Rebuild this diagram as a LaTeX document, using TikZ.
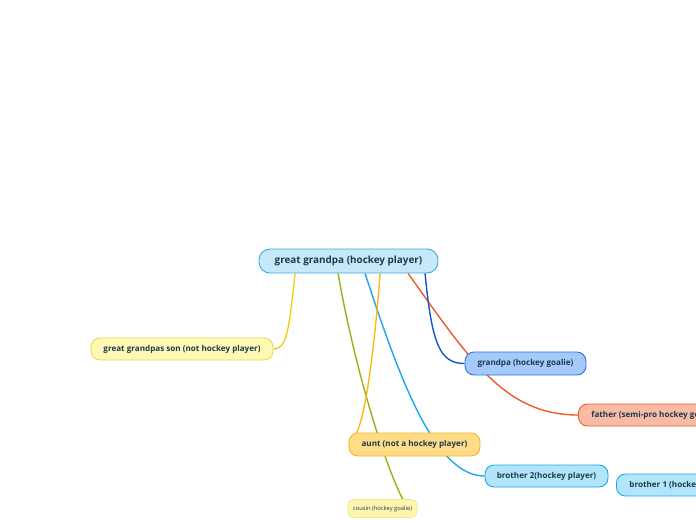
\documentclass[tikz,border=0pt]{standalone}
\usepackage{fontspec}
\setmainfont{Open Sans}
\usetikzlibrary{backgrounds}
\definecolor{txt}{HTML}{1E3A4C}
\definecolor{ggfill}{HTML}{C6E9FA}\definecolor{ggdraw}{HTML}{3DA8DF}
\definecolor{sonfill}{HTML}{FFF9B5}\definecolor{sondraw}{HTML}{EBD94E}
\definecolor{gpfill}{HTML}{A5C9FA}\definecolor{gpdraw}{HTML}{2F74DD}
\definecolor{fafill}{HTML}{F8BBA6}\definecolor{fadraw}{HTML}{F05A28}
\definecolor{aufill}{HTML}{FFDC88}\definecolor{audraw}{HTML}{F8B41C}
\definecolor{brfill}{HTML}{B3E5FA}\definecolor{brdraw}{HTML}{1AA8E8}
\definecolor{cofill}{HTML}{FFF5AE}\definecolor{codraw}{HTML}{F3E58A}
\definecolor{cyellow}{HTML}{EFCF1A}\definecolor{cblue}{HTML}{1354D0}
\definecolor{cred}{HTML}{F05A28}\definecolor{corange}{HTML}{FDB813}
\definecolor{cgreen}{HTML}{8DB814}\definecolor{csky}{HTML}{1AA8E8}
\tikzset{
  topic/.style={rounded corners=9pt, line width=0.9pt, text=txt, font=\bfseries\fontsize{8.1}{9}\selectfont, inner sep=0pt, anchor=center},
  conn/.style={line width=1.4pt},
}
\begin{document}
\begin{tikzpicture}[x=1pt,y=-1pt]
\useasboundingbox (0,0) rectangle (696,520);
\node[topic, fill=ggfill, draw=ggdraw, minimum width=179pt, minimum height=24pt, font=\bfseries\fontsize{9.9}{11}\selectfont, rounded corners=11pt] (ggp) at (348.5,261) {great grandpa (hockey player)};
\node[topic, fill=sonfill, draw=sondraw, minimum width=182pt, minimum height=22pt] (son) at (182,349) {great grandpas son (not hockey player)};
\node[topic, fill=gpfill, draw=gpdraw, minimum width=121pt, minimum height=23pt] (gp) at (525.5,363.5) {grandpa (hockey goalie)};
\node[topic, fill=fafill, draw=fadraw, minimum height=22pt, anchor=west] (fa) at (578,415) {\hspace*{13pt}father (semi-pro hockey goalie)\hspace*{13pt}};
\node[topic, fill=aufill, draw=audraw, minimum width=131pt, minimum height=23pt] (au) at (414.5,444.5) {aunt (not a hockey player)};
\node[topic, fill=brfill, draw=brdraw, minimum width=123pt, minimum height=22pt] (b2) at (546.5,476) {brother 2(hockey player)};
\node[topic, fill=brfill, draw=brdraw, minimum height=22pt, anchor=west] (b1) at (616,485) {\hspace*{13pt}brother 1 (hockey player)\hspace*{13pt}};
\node[topic, fill=cofill, draw=codraw, minimum width=69pt, minimum height=18pt, rounded corners=5pt, line width=0.6pt, font=\fontsize{5.8}{6}\selectfont] (co) at (382.5,508.5) {cousin (hockey goalie)};
% anchor points on great grandpa's lower edge
\coordinate (g1) at ([xshift=36.5pt]ggp.south west);
\coordinate (g2) at ([xshift=79.5pt]ggp.south west);
\coordinate (g3) at ([xshift=106.5pt]ggp.south west);
\coordinate (g4) at ([xshift=121.5pt]ggp.south west);
\coordinate (g5) at ([xshift=149.5pt]ggp.south west);
\coordinate (g6) at ([xshift=166.5pt]ggp.south west);
\coordinate (auin) at ([xshift=7pt,yshift=-2pt]au.north west);
\coordinate (coin) at ([xshift=55pt]co.north west);
\begin{scope}[on background layer]
\draw[conn, cyellow] (g1) .. controls (289,330) and (287,349) .. (son.east);
\draw[conn, cgreen] (g2) .. controls (355,370) and (385,465) .. (coin);
\draw[conn, csky] (g3) .. controls (400,380) and (435,476) .. (b2.west);
\draw[conn, corange] (g4) .. controls (372,380) and (362,425) .. (auin);
\draw[conn, cred] (g5) .. controls (470,360) and (505,415) .. (fa.west);
\draw[conn, cblue] (g6) .. controls (432,345) and (440,363.5) .. (gp.west);
\end{scope}
\end{tikzpicture}
\end{document}
